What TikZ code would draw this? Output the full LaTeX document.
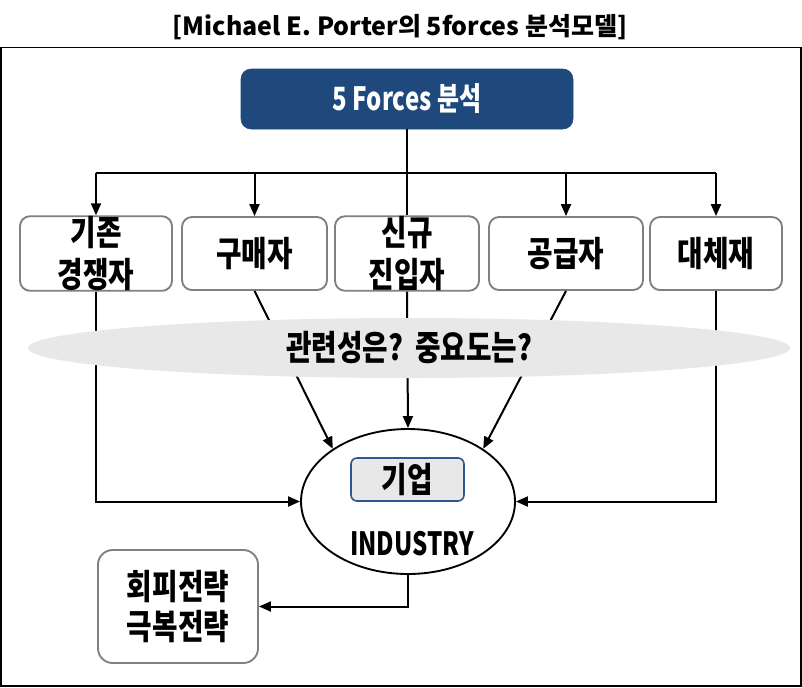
\documentclass[tikz,border=0pt]{standalone}
\usepackage{fontspec}
\setmainfont{Noto Sans CJK KR}
\newfontfamily\krc{Noto Sans CJK KR}[FakeStretch=0.8]
\newfontfamily\krn{Noto Sans CJK KR}[FakeStretch=0.75]
\usetikzlibrary{arrows.meta,shapes.geometric}
\definecolor{navy}{HTML}{1F487C}
\definecolor{boxgray}{HTML}{808080}
\definecolor{ellgray}{HTML}{E8E8E8}
\definecolor{firmborder}{HTML}{2F5597}
\def\u{0.75pt}
\begin{document}
\begin{tikzpicture}[x=0.75pt,y=-0.75pt,
  conn/.style={line width=1.5pt},
  arr/.style={conn,-{Triangle[length=9pt,width=7.5pt]}},
  dfont/.style={font=\krc\bfseries\fontsize{26pt}{31.5pt}\selectfont},
  nfont/.style={font=\krn\bfseries\fontsize{24pt}{28pt}\selectfont},
  forcebox/.style={draw=boxgray,line width=1.4pt,rounded corners=7.5pt,fill=white,
    minimum height=73*\u,align=center,inner sep=0pt,dfont},
  topbox/.style={fill=navy,draw=navy,rounded corners=7.5pt,text=white,
    minimum width=332*\u,minimum height=60*\u,inner sep=0pt,nfont},
  firmbox/.style={fill=ellgray,draw=firmborder,line width=1.2pt,rounded corners=4.5pt,
    minimum width=113*\u,minimum height=43*\u,inner sep=0pt,dfont},
  relell/.style={ellipse,fill=ellgray,minimum width=762*\u,minimum height=60*\u,inner sep=0pt,dfont},
  indell/.style={ellipse,draw,line width=1.4pt,minimum width=214*\u,minimum height=145*\u,inner sep=0pt}
]
\useasboundingbox (0,0) rectangle (802,687);
\node[font=\bfseries\fontsize{18.75pt}{20pt}\selectfont] (title) at (400,27) {[Michael E. Porter의 5forces 분석모델]};
\draw[line width=1.1pt] (1,47.5) rectangle (801,686);
\node[topbox] (top) at (407,99) {5 Forces 분석};
\node[forcebox,minimum width=152*\u] (riv) at (96,253.5) {기존\\경쟁자};
\node[forcebox,minimum width=145*\u] (buy) at (254.5,253.5) {구매자};
\node[forcebox,minimum width=144*\u] (new) at (407,253.5) {신규\\진입자};
\node[forcebox,minimum width=154*\u] (sup) at (566,253.5) {공급자};
\node[forcebox,minimum width=132*\u] (sub) at (716,253.5) {대체재};
\coordinate (bus) at (407,173);
\draw[conn] (top.south) -- (new.north);
\draw[conn] (riv.north |- bus) -- (sub.north |- bus);
\draw[arr] (riv.north |- bus) -- (riv.north);
\draw[arr] (buy.north |- bus) -- (buy.north);
\draw[arr] (sup.north |- bus) -- (sup.north);
\draw[arr] (sub.north |- bus) -- (sub.north);
\node[indell] (ind) at (408,501.5) {};
\node[firmbox] (firm) at (407.5,479.5) {기업};
\node[nfont] (indtxt) at (412,544) {INDUSTRY};
\draw[arr] (riv.south) -- (riv.south |- ind.west) -- (ind.west);
\draw[arr] (sub.south) -- (sub.south |- ind.east) -- (ind.east);
\draw[arr] (buy.south) -- (ind.145);
\draw[arr] (new.south) -- (ind.north);
\draw[arr] (sup.south) -- (ind.35);
\node[relell] (rel) at (409,348) {관련성은?\hspace{0.35em}중요도는?};
\node[forcebox,minimum width=160*\u,minimum height=113*\u,rounded corners=11pt,
  font=\krc\bfseries\fontsize{26pt}{30pt}\selectfont] (strat) at (178,606.5) {회피전략\\극복전략};
\draw[arr] (ind.south) -- (ind.south |- strat.east) -- (strat.east);
\end{tikzpicture}
\end{document}
